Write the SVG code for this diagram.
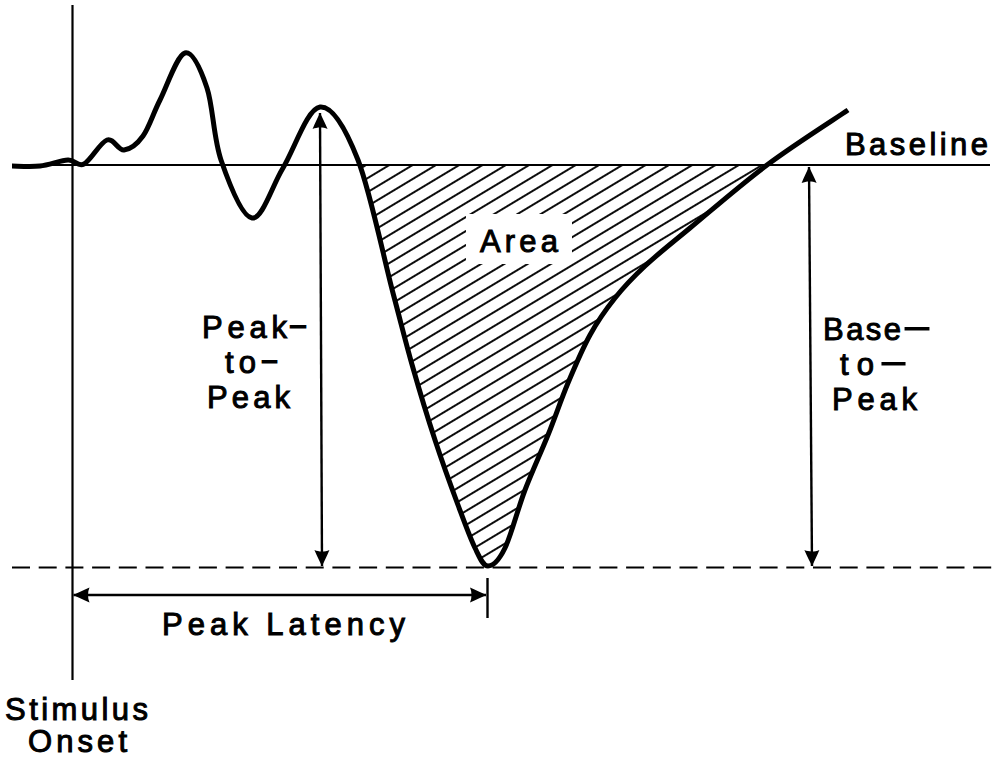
<svg xmlns="http://www.w3.org/2000/svg" width="997" height="760" viewBox="0 0 997 760">
  <style>
    .lbl { font-family: "Liberation Sans", Arial, sans-serif; font-size: 31px; fill: #000; stroke: #000; stroke-width: 1px; }
    .thin { fill: none; stroke: #000; stroke-width: 2.2; }
    .arrow { fill: none; stroke: #000; stroke-width: 2.4; }
    .wave { fill: none; stroke: #000; stroke-width: 5; stroke-linejoin: round; stroke-linecap: butt; }
  </style>
  <defs>
    <marker id="ah" markerUnits="userSpaceOnUse" markerWidth="20" markerHeight="20" viewBox="-18 -10 20 20" refX="0" refY="0" orient="auto-start-reverse">
      <path d="M0,0 C-4,-2 -10,-5 -16,-7.5 C-14,-3 -14,3 -16,7.5 C-10,5 -4,2 0,0 Z" fill="#000"/>
    </marker>
    <pattern id="hatch" patternUnits="userSpaceOnUse" width="12" height="12" patternTransform="rotate(-31)">
      <line x1="-1" y1="6" x2="13" y2="6" stroke="#000" stroke-width="1.9"/>
    </pattern>
    <clipPath id="belowBase">
      <rect x="0" y="165" width="997" height="420"/>
    </clipPath>
  </defs>
  <rect width="997" height="760" fill="#fff"/>

  <!-- hatched area -->
  <g id="area" clip-path="url(#belowBase)">
    <path fill="url(#hatch)" stroke="none" d="M358,160 C370.2,191.2 383.8,258.3 393,293 C402.2,327.7 406,343.5 413,368 C420,392.5 427.5,417.2 435,440 C442.5,462.8 451.3,487 458,505 C464.7,523 470,537.8 475,548 C480,558.2 483,566 488,566 C493,566 498.8,560.7 505,548 C511.2,535.3 517.8,508.8 525,490 C532.2,471.2 540.8,452.8 548,435 C555.2,417.2 561,399.7 568,383 C575,366.3 582.2,349.2 590,335 C597.8,320.8 605.8,309.5 615,298 C624.2,286.5 632.5,277.7 645,266 C657.5,254.3 669.7,244.8 690,228 C710.3,211.2 740.7,184.7 767,165 L767,150 L358,150 Z"/>
    <rect x="466" y="214" width="106" height="50" fill="#fff"/>
  </g>

  <!-- reference lines -->
  <g id="baseline">
    <line class="thin" x1="12" y1="165" x2="990" y2="165" stroke-width="2.5"/>
  </g>
  <g id="peak-level">
    <line class="thin" x1="12" y1="567.5" x2="997" y2="567.5" stroke-width="2.6" stroke-dasharray="18 8.7"/>
  </g>
  <g id="stimulus-onset-line">
    <line class="thin" x1="72.5" y1="5" x2="72.5" y2="680"/>
  </g>

  <!-- waveform -->
  <g id="waveform">
    <path class="wave" d="M12,166 C16.7,166 30.7,167 40,166 C49.3,165 60.7,160.3 68,160 C75.3,159.7 77.5,167.3 84,164 C90.5,160.7 100.3,142.3 107,140 C113.7,137.7 118,150.7 124,150 C130,149.3 137,144.3 143,136 C149,127.7 153,113.8 160,100 C167,86.2 177.2,55 185,53 C192.8,51 201,70.2 207,88 C213,105.8 213.5,138.3 221,160 C228.5,181.7 241.7,216.7 252,218 C262.3,219.3 271.7,186.7 283,168 C294.3,149.3 307.5,108.3 320,107 C332.5,105.7 345.8,128.8 358,160 C370.2,191.2 383.8,258.3 393,293 C402.2,327.7 406,343.5 413,368 C420,392.5 427.5,417.2 435,440 C442.5,462.8 451.3,487 458,505 C464.7,523 470,537.8 475,548 C480,558.2 483,566 488,566 C493,566 498.8,560.7 505,548 C511.2,535.3 517.8,508.8 525,490 C532.2,471.2 540.8,452.8 548,435 C555.2,417.2 561,399.7 568,383 C575,366.3 582.2,349.2 590,335 C597.8,320.8 605.8,309.5 615,298 C624.2,286.5 632.5,277.7 645,266 C657.5,254.3 669.7,244.8 690,228 C710.3,211.2 740.7,184.7 767,165 C793.3,145.3 834.5,119.2 848,110"/>
  </g>

  <!-- connectors -->
  <g id="connectors">
    <line id="peak-to-peak-arrow" class="arrow" x1="320" y1="113" x2="322" y2="566" marker-start="url(#ah)" marker-end="url(#ah)"/>
    <line id="base-to-peak-arrow" class="arrow" x1="809" y1="167" x2="812" y2="566" marker-start="url(#ah)" marker-end="url(#ah)"/>
    <line id="peak-latency-arrow" class="arrow" x1="73.5" y1="595" x2="486" y2="595" marker-start="url(#ah)" marker-end="url(#ah)"/>
    <line id="peak-latency-tick" class="arrow" x1="487.5" y1="578" x2="487.5" y2="618"/>
  </g>

  <!-- labels -->
  <g id="label-baseline">
    <text class="lbl" x="845" y="155" textLength="143" lengthAdjust="spacing">Baseline</text>
  </g>
  <g id="label-area">
    <text class="lbl" x="480" y="252" textLength="78" lengthAdjust="spacing">Area</text>
  </g>
  <g id="label-peak-to-peak">
    <text class="lbl" x="202" y="338"><tspan textLength="85" lengthAdjust="spacing">Peak</tspan><tspan x="288" baseline-shift="3" textLength="20" lengthAdjust="spacingAndGlyphs">-</tspan></text>
    <text class="lbl" x="225" y="373"><tspan textLength="31" lengthAdjust="spacing">to</tspan><tspan x="260" baseline-shift="3" textLength="19" lengthAdjust="spacingAndGlyphs">-</tspan></text>
    <text class="lbl" x="207" y="408" textLength="83" lengthAdjust="spacing">Peak</text>
  </g>
  <g id="label-base-to-peak">
    <text class="lbl" x="823" y="340"><tspan textLength="78" lengthAdjust="spacing">Base</tspan><tspan x="902" baseline-shift="3" textLength="30" lengthAdjust="spacingAndGlyphs">-</tspan></text>
    <text class="lbl" x="840" y="375"><tspan textLength="34" lengthAdjust="spacing">to</tspan><tspan x="879" baseline-shift="3" textLength="29" lengthAdjust="spacingAndGlyphs">-</tspan></text>
    <text class="lbl" x="832" y="410" textLength="85" lengthAdjust="spacing">Peak</text>
  </g>
  <g id="label-peak-latency">
    <text class="lbl" x="162" y="635" textLength="243" lengthAdjust="spacing">Peak Latency</text>
  </g>
  <g id="label-stimulus-onset">
    <text class="lbl" x="5" y="720" textLength="143" lengthAdjust="spacing">Stimulus</text>
    <text class="lbl" x="28" y="752" textLength="99" lengthAdjust="spacing">Onset</text>
  </g>
</svg>
